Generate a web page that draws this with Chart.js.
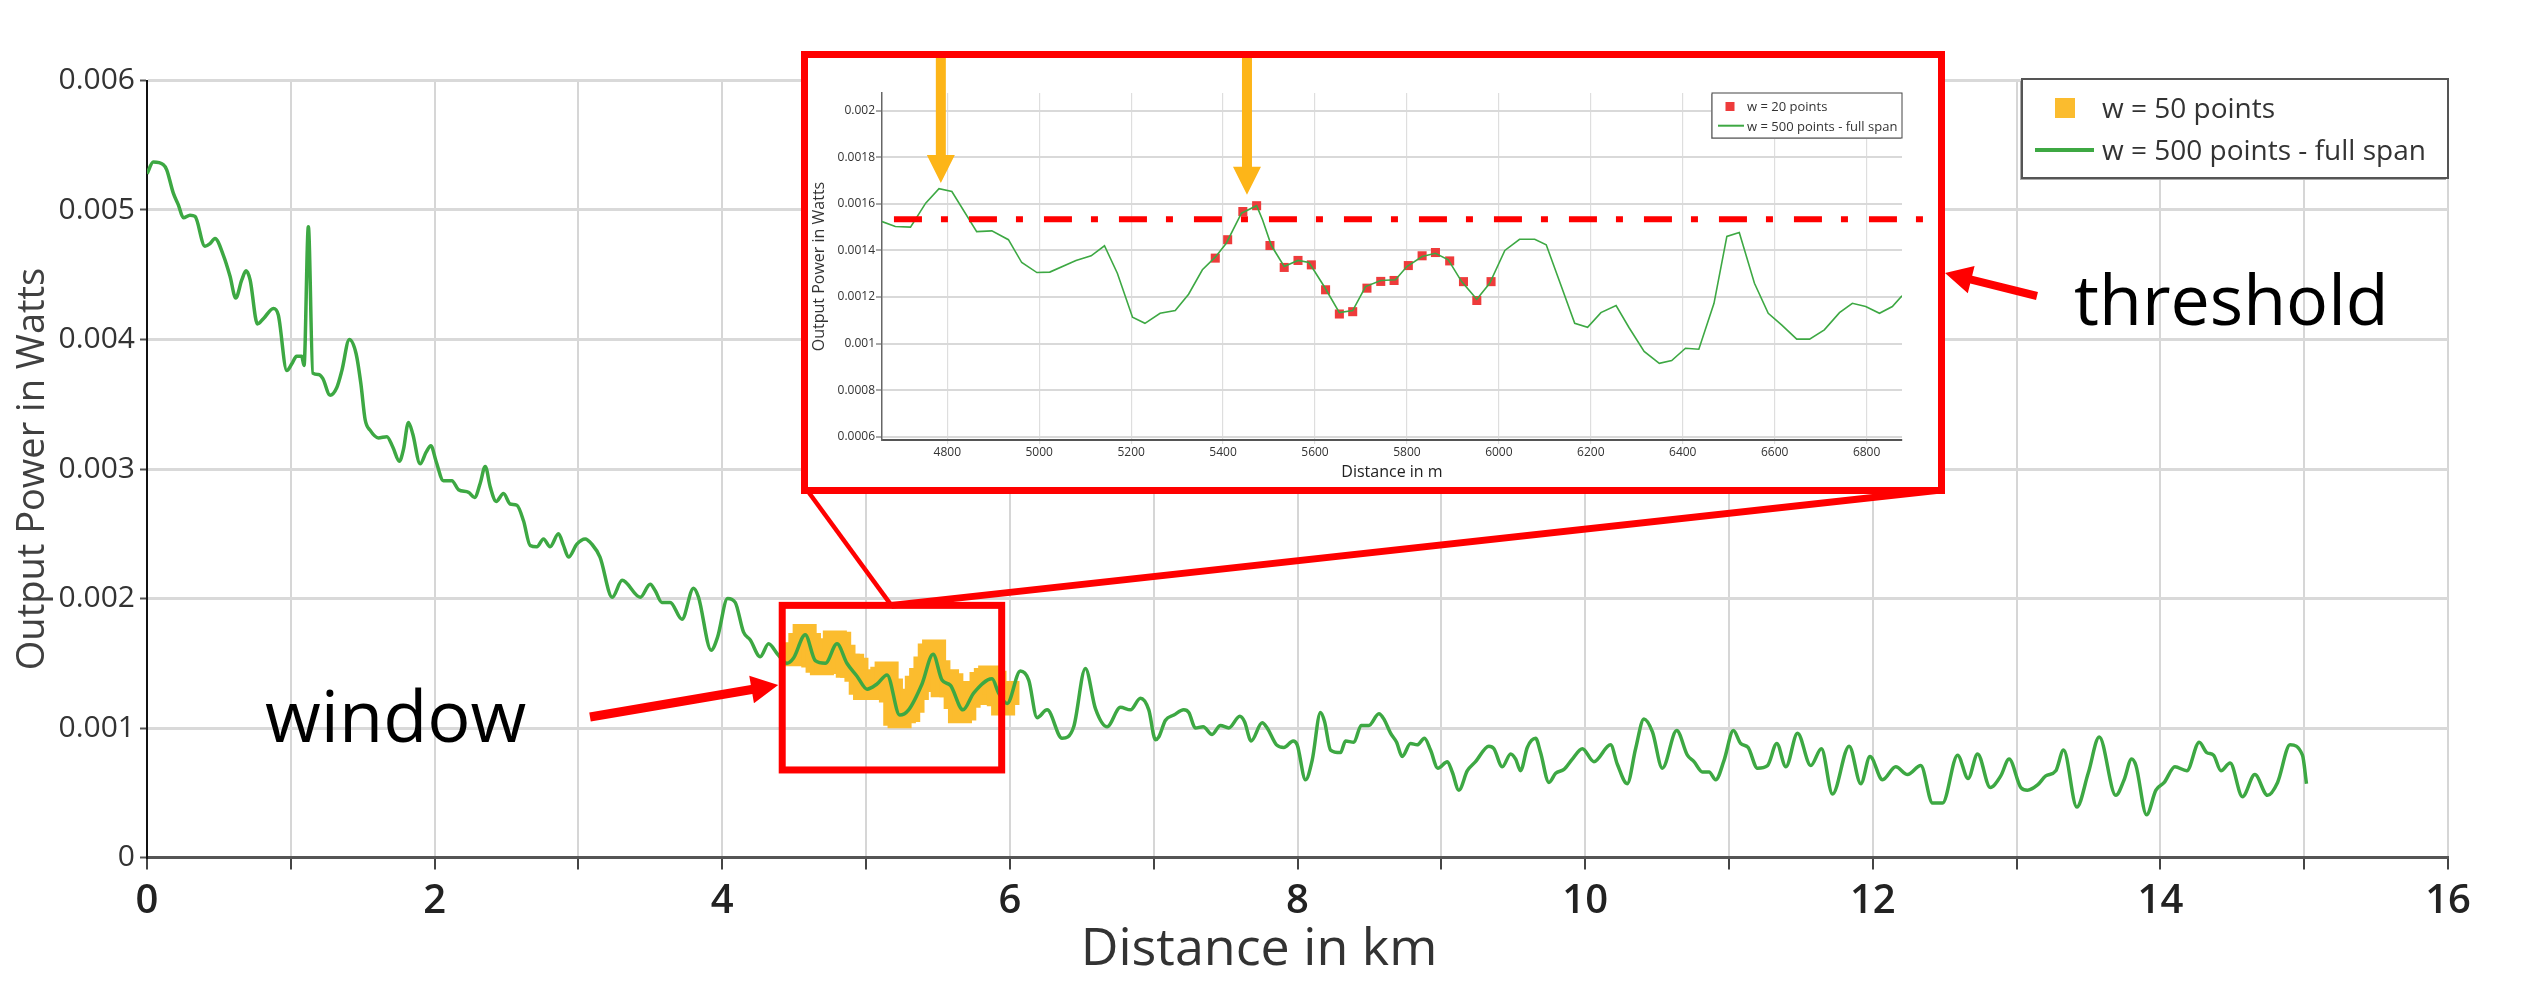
<!DOCTYPE html>
<html>
<head>
<meta charset="utf-8">
<script src="https://cdn.jsdelivr.net/npm/chart.js@4.4.1/dist/chart.umd.min.js"></script>
<style>
  body { margin: 0; background: #fff; }
  #wrap { position: relative; width: 2528px; height: 984px; }
  #main { position: absolute; left: 0; top: 0; }
  #insetBox { position: absolute; left: 801px; top: 51px; width: 1144px; height: 443px;
              border: 7px solid #ff0000; box-sizing: border-box; background: #fff; }
  #inset { display: block; }
</style>
</head>
<body>
<div id="wrap">
  <canvas id="main" width="2528" height="984"></canvas>
  <div id="insetBox"><canvas id="inset" width="1130" height="429"></canvas></div>
</div>
<script>
// === DATA (main chart, distance in km / power in W) ===
const distanceKm = [
  0.000, 0.044, 0.113, 0.137, 0.183, 0.218, 0.253, 0.299, 0.334, 0.403,
  0.438, 0.473, 0.531, 0.577, 0.617, 0.659, 0.689, 0.717, 0.768, 0.809,
  0.879, 0.913, 0.972, 1.006, 1.041, 1.076, 1.092, 1.122, 1.153, 1.192,
  1.222, 1.273, 1.320, 1.355, 1.407, 1.454, 1.487, 1.517, 1.551, 1.609,
  1.668, 1.709, 1.755, 1.783, 1.818, 1.848, 1.899, 1.941, 1.974, 2.010,
  2.061, 2.120, 2.166, 2.236, 2.278, 2.317, 2.352, 2.387, 2.428, 2.479,
  2.525, 2.572, 2.618, 2.664, 2.711, 2.757, 2.803, 2.861, 2.896, 2.931,
  2.989, 3.047, 3.093, 3.150, 3.235, 3.304, 3.430, 3.499, 3.534, 3.580,
  3.638, 3.720, 3.800, 3.835, 3.923, 3.967, 4.037, 4.090, 4.148, 4.195,
  4.264, 4.322, 4.385, 4.450, 4.496, 4.577, 4.647, 4.717, 4.798, 4.867,
  4.937, 5.007, 5.076, 5.146, 5.234, 5.296, 5.389, 5.466, 5.528, 5.586,
  5.674, 5.748, 5.876, 5.922, 5.981, 6.073, 6.131, 6.189, 6.259, 6.363,
  6.444, 6.525, 6.595, 6.676, 6.769, 6.838, 6.908, 6.966, 7.012, 7.035,
  7.082, 7.140, 7.209, 7.244, 7.290, 7.344, 7.406, 7.464, 7.522, 7.599,
  7.631, 7.678, 7.754, 7.789, 7.854, 7.905, 7.970, 7.998, 8.056, 8.102,
  8.160, 8.188, 8.230, 8.299, 8.334, 8.392, 8.443, 8.496, 8.566, 8.600,
  8.647, 8.689, 8.728, 8.786, 8.832, 8.883, 8.925, 8.976, 9.042, 9.076,
  9.122, 9.181, 9.238, 9.331, 9.366, 9.424, 9.482, 9.517, 9.551, 9.598,
  9.656, 9.690, 9.748, 9.795, 9.853, 9.911, 9.981, 10.061, 10.177, 10.224,
  10.293, 10.351, 10.409, 10.468, 10.537, 10.637, 10.711, 10.757, 10.816, 10.862,
  10.908, 10.966, 11.031, 11.082, 11.133, 11.198, 11.268, 11.333, 11.396, 11.477,
  11.569, 11.643, 11.720, 11.836, 11.917, 11.981, 12.068, 12.160, 12.242, 12.334,
  12.416, 12.485, 12.590, 12.663, 12.729, 12.817, 12.890, 12.948, 13.030, 13.076,
  13.146, 13.203, 13.273, 13.327, 13.419, 13.498, 13.575, 13.690, 13.748, 13.800,
  13.830, 13.904, 13.969, 14.027, 14.101, 14.184, 14.270, 14.323, 14.370, 14.421,
  14.485, 14.571, 14.657, 14.745, 14.815, 14.902, 14.988, 15.016
];
const powerW = [
  0.00528, 0.00537, 0.00535, 0.00531, 0.00513, 0.00504, 0.00494, 0.00496, 0.00495, 0.00472,
  0.00474, 0.00478, 0.00465, 0.00449, 0.00432, 0.00446, 0.00453, 0.00446, 0.00412, 0.00416,
  0.00424, 0.00419, 0.00376, 0.00381, 0.00387, 0.00387, 0.00380, 0.00487, 0.00374, 0.00373,
  0.00370, 0.00357, 0.00363, 0.00376, 0.00400, 0.00389, 0.00366, 0.00338, 0.00330, 0.00324,
  0.00325, 0.00317, 0.00306, 0.00315, 0.00336, 0.00327, 0.00304, 0.00313, 0.00318, 0.00306,
  0.00291, 0.00291, 0.00284, 0.00282, 0.00278, 0.00289, 0.00302, 0.00286, 0.00275, 0.00281,
  0.00273, 0.00272, 0.00260, 0.00241, 0.00240, 0.00246, 0.00240, 0.00250, 0.00241, 0.00232,
  0.00242, 0.00246, 0.00242, 0.00232, 0.00201, 0.00214, 0.00201, 0.00211, 0.00206, 0.00197,
  0.00197, 0.00184, 0.00208, 0.00201, 0.00160, 0.00170, 0.00200, 0.00197, 0.00174, 0.00168,
  0.00155, 0.00165, 0.00157, 0.00150, 0.00154, 0.00172, 0.00152, 0.00150, 0.00165, 0.00150,
  0.00140, 0.00130, 0.00134, 0.00141, 0.00110, 0.00114, 0.00134, 0.00157, 0.00137, 0.00133,
  0.00114, 0.00127, 0.00138, 0.00127, 0.00119, 0.00144, 0.00137, 0.00108, 0.00114, 0.00092,
  0.00101, 0.00146, 0.00115, 0.00101, 0.00116, 0.00114, 0.00123, 0.00114, 0.00091, 0.00093,
  0.00106, 0.00110, 0.00114, 0.00112, 0.00100, 0.00101, 0.00095, 0.00102, 0.00100, 0.00109,
  0.00105, 0.00090, 0.00104, 0.00100, 0.00087, 0.00085, 0.00090, 0.00087, 0.00060, 0.00075,
  0.00112, 0.00105, 0.00083, 0.00081, 0.00090, 0.00089, 0.00102, 0.00102, 0.00111, 0.00107,
  0.00096, 0.00089, 0.00078, 0.00088, 0.00087, 0.00092, 0.00083, 0.00069, 0.00074, 0.00066,
  0.00052, 0.00067, 0.00074, 0.00086, 0.00084, 0.00070, 0.00080, 0.00076, 0.00067, 0.00085,
  0.00092, 0.00081, 0.00058, 0.00065, 0.00068, 0.00076, 0.00084, 0.00074, 0.00087, 0.00072,
  0.00057, 0.00084, 0.00107, 0.00097, 0.00069, 0.00098, 0.00079, 0.00074, 0.00066, 0.00066,
  0.00060, 0.00075, 0.00098, 0.00088, 0.00085, 0.00069, 0.00071, 0.00088, 0.00070, 0.00096,
  0.00071, 0.00084, 0.00049, 0.00086, 0.00057, 0.00078, 0.00060, 0.00070, 0.00064, 0.00071,
  0.00042, 0.00042, 0.00079, 0.00061, 0.00080, 0.00054, 0.00063, 0.00076, 0.00054, 0.00052,
  0.00056, 0.00063, 0.00067, 0.00083, 0.00039, 0.00065, 0.00093, 0.00048, 0.00060, 0.00076,
  0.00071, 0.00033, 0.00052, 0.00058, 0.00070, 0.00067, 0.00089, 0.00081, 0.00079, 0.00067,
  0.00073, 0.00047, 0.00064, 0.00048, 0.00058, 0.00087, 0.00079, 0.00057
];

// w = 50 points window (orange squares)
const windowKm = [
  4.513, 4.543, 4.573, 4.603, 4.633, 4.663, 4.693, 4.723, 4.753, 4.783,
  4.813, 4.843, 4.873, 4.903, 4.933, 4.963, 4.993, 5.023, 5.053, 5.083,
  5.113, 5.143, 5.173, 5.203, 5.233, 5.263, 5.293, 5.323, 5.353, 5.383,
  5.413, 5.443, 5.473, 5.503, 5.533, 5.563, 5.593, 5.623, 5.653, 5.683,
  5.713, 5.743, 5.773, 5.803, 5.833, 5.863, 5.893, 5.923, 5.953, 5.983
];
const windowW = [
  0.00157, 0.00164, 0.00171, 0.00164, 0.00156, 0.00152, 0.00150, 0.00151, 0.00160, 0.00166,
  0.00165, 0.00155, 0.00148, 0.00148, 0.00145, 0.00135, 0.00131, 0.00131, 0.00133, 0.00136,
  0.00138, 0.00142, 0.00129, 0.00111, 0.00109, 0.00113, 0.00114, 0.00121, 0.00131, 0.00137,
  0.00146, 0.00156, 0.00159, 0.00143, 0.00133, 0.00136, 0.00133, 0.00124, 0.00113, 0.00115,
  0.00125, 0.00127, 0.00127, 0.00134, 0.00137, 0.00139, 0.00135, 0.00126, 0.00119, 0.00127
];

const xTickValues = [0, 1, 2, 3, 4, 5, 6, 7, 8, 9, 10, 11, 12, 13, 14, 15, 16];
const xTickLabels = ['0', '', '2', '', '4', '', '6', '', '8', '', '10', '', '12', '', '14', '', '16'];
const yTickValues = [0, 0.001, 0.002, 0.003, 0.004, 0.005, 0.006];
const yTickLabels = ['0', '0.001', '0.002', '0.003', '0.004', '0.005', '0.006'];

// === DATA (inset, distance in m / power in W) ===
const insetDistM = [
  4658, 4687, 4720, 4753, 4782, 4810, 4864, 4897, 4933, 4962,
  4995, 5023, 5080, 5113, 5142, 5170, 5203, 5230, 5263, 5296,
  5325, 5355, 5383, 5407, 5440, 5473, 5486, 5505, 5533, 5563,
  5587, 5620, 5653, 5682, 5710, 5743, 5775, 5800, 5833, 5862,
  5890, 5919, 5952, 5980, 6013, 6045, 6078, 6103, 6136, 6165,
  6193, 6222, 6255, 6283, 6316, 6349, 6376, 6406, 6435, 6468,
  6496, 6523, 6556, 6586, 6615, 6648, 6676, 6708, 6741, 6769,
  6798, 6828, 6856, 6877
];
const insetPowerW = [
  0.001524, 0.001503, 0.001500, 0.001603, 0.001665, 0.001653, 0.001481, 0.001484, 0.001446, 0.001348,
  0.001305, 0.001307, 0.001357, 0.001377, 0.001420, 0.001302, 0.001113, 0.001087, 0.001130, 0.001142,
  0.001212, 0.001317, 0.001371, 0.001431, 0.001560, 0.001592, 0.001531, 0.001421, 0.001331, 0.001357,
  0.001348, 0.001245, 0.001133, 0.001142, 0.001245, 0.001271, 0.001274, 0.001331, 0.001374, 0.001388,
  0.001360, 0.001266, 0.001190, 0.001259, 0.001400, 0.001448, 0.001448, 0.001424, 0.001245, 0.001087,
  0.001070, 0.001133, 0.001163, 0.001069, 0.000966, 0.000915, 0.000927, 0.000980, 0.000976, 0.001173,
  0.001460, 0.001477, 0.001259, 0.001130, 0.001080, 0.001019, 0.001019, 0.001059, 0.001133, 0.001173,
  0.001159, 0.001130, 0.001159, 0.001205
];
// w = 20 points (red squares)
const w20DistM = [5383, 5410, 5443, 5473, 5502, 5533, 5563, 5592, 5623, 5653, 5682,
                  5713, 5743, 5772, 5803, 5833, 5862, 5893, 5923, 5952, 5983];
const w20PowerW = [0.001367, 0.001446, 0.001567, 0.001592, 0.001421, 0.001327, 0.001357,
                   0.001338, 0.001231, 0.001127, 0.001137, 0.001238, 0.001267, 0.001271,
                   0.001335, 0.001377, 0.001391, 0.001355, 0.001266, 0.001185, 0.001266];

const insetXTicks = [4800, 5000, 5200, 5400, 5600, 5800, 6000, 6200, 6400, 6600, 6800];
const insetYTicks = [0.0006, 0.0008, 0.001, 0.0012, 0.0014, 0.0016, 0.0018, 0.002];
const insetYLabels = ['0.0006', '0.0008', '0.001', '0.0012', '0.0014', '0.0016', '0.0018', '0.002'];

const thresholdW = 0.001534;
const peakArrowM = [4786, 5452];
const peakArrowTipW = [0.00169, 0.001639];

// === STYLE ===
const RED = '#ff0000';
const GREEN = '#3da843';
const ORANGE = '#fbbc2e';
const ARROW_ORANGE = '#fdb518';
const INSET = { left: 801, top: 51, width: 1144, height: 443 };
const windowBox = { fromKm: 4.417, toKm: 5.943, topW: 0.001947, bottomW: 0.000676, linkKm: 5.176 };

Chart.defaults.font.family = '"Open Sans", sans-serif';

function toPoints(xs, ys) {
  return xs.map((x, i) => ({ x: x, y: ys[i] }));
}

function arrow(ctx, x1, y1, x2, y2, shaftW, headLen, headHalf, color) {
  const ang = Math.atan2(y2 - y1, x2 - x1);
  const len = Math.hypot(x2 - x1, y2 - y1);
  ctx.save();
  ctx.translate(x2, y2);
  ctx.rotate(ang);
  ctx.fillStyle = color;
  ctx.beginPath();
  ctx.moveTo(-len, -shaftW / 2);
  ctx.lineTo(-headLen, -shaftW / 2);
  ctx.lineTo(-headLen, -headHalf);
  ctx.lineTo(0, 0);
  ctx.lineTo(-headLen, headHalf);
  ctx.lineTo(-headLen, shaftW / 2);
  ctx.lineTo(-len, shaftW / 2);
  ctx.closePath();
  ctx.fill();
  ctx.restore();
}

function seg(ctx, x1, y1, x2, y2) {
  ctx.beginPath();
  ctx.moveTo(x1, y1);
  ctx.lineTo(x2, y2);
  ctx.stroke();
}

// === MAIN CHART DECORATIONS ===
const mainDecor = {
  id: 'mainDecor',
  afterDatasetsDraw(chart) {
    const { ctx, scales: { x, y } } = chart;
    ctx.save();

    // window box
    const l = x.getPixelForValue(windowBox.fromKm);
    const r = x.getPixelForValue(windowBox.toKm);
    const t = y.getPixelForValue(windowBox.topW);
    const b = y.getPixelForValue(windowBox.bottomW);
    ctx.strokeStyle = RED;
    ctx.lineWidth = 7;
    ctx.strokeRect(l, t, r - l, b - t);

    // links to the zoom box
    const jx = x.getPixelForValue(windowBox.linkKm);
    ctx.lineWidth = 4.5;
    seg(ctx, jx, t, INSET.left + 6, INSET.top + INSET.height - 4);
    ctx.lineWidth = 7;
    seg(ctx, jx, t, INSET.left + INSET.width - 4, INSET.top + INSET.height - 4);

    // "window" label + arrow
    arrow(ctx, 590, 717, l - 4, 685, 9, 27, 14, RED);
    ctx.fillStyle = '#000';
    ctx.font = '72px "Open Sans"';
    ctx.textBaseline = 'alphabetic';
    ctx.textAlign = 'left';
    ctx.fillText('window', 265, 742);

    // "threshold" label + arrow
    arrow(ctx, 2037, 296, INSET.left + INSET.width, 273, 8, 27, 14, RED);
    ctx.font = '70px "Open Sans"';
    ctx.fillText('threshold', 2074, 325);

    // x axis title (sits a bit left of the plot centre in the original)
    ctx.fillStyle = '#333';
    ctx.font = '52px "Open Sans"';
    ctx.textAlign = 'center';
    ctx.textBaseline = 'middle';
    ctx.fillText('Distance in km', 1259, 950);

    // legend
    ctx.textAlign = 'left';
    ctx.textBaseline = 'alphabetic';
    ctx.fillStyle = '#aaa';
    ctx.fillRect(2020, 81, 426, 99);
    ctx.fillStyle = '#fff';
    ctx.fillRect(2022, 79, 426, 99);
    ctx.strokeStyle = '#555';
    ctx.lineWidth = 2;
    ctx.strokeRect(2022, 79, 426, 99);
    ctx.fillStyle = ORANGE;
    ctx.fillRect(2055, 98, 20, 20);
    ctx.strokeStyle = GREEN;
    ctx.lineWidth = 4;
    seg(ctx, 2035, 150, 2094, 150);
    ctx.fillStyle = '#333';
    ctx.font = '28px "Open Sans"';
    ctx.fillText(chart.data.datasets[1].label, 2102, 118);
    ctx.fillText(chart.data.datasets[0].label, 2102, 160);
    ctx.restore();
  }
};

const mainChart = new Chart(document.getElementById('main'), {
  type: 'scatter',
  data: {
    datasets: [
      {
        label: 'w = 500 points - full span',
        data: toPoints(distanceKm, powerW),
        showLine: true,
        borderColor: GREEN,
        borderWidth: 3.5,
        pointRadius: 0,
        cubicInterpolationMode: 'monotone',
        order: 0
      },
      {
        label: 'w = 50 points',
        data: toPoints(windowKm, windowW),
        showLine: false,
        pointStyle: 'rect',
        pointRadius: 17,
        backgroundColor: ORANGE,
        borderWidth: 0,
        order: 1
      }
    ]
  },
  options: {
    responsive: false,
    animation: false,
    devicePixelRatio: 1,
    layout: { padding: { top: 80.5, right: 80, left: 0, bottom: 0 } },
    plugins: { legend: { display: false }, tooltip: { enabled: false } },
    scales: {
      x: {
        type: 'linear',
        min: 0,
        max: 16,
        afterBuildTicks: s => { s.ticks = xTickValues.map(v => ({ value: v })); },
        afterFit: s => { s.height = 126.5; },
        ticks: {
          callback: (v, i) => xTickLabels[i],
          autoSkip: false,
          maxRotation: 0,
          font: { size: 40, weight: '600' },
          color: '#222',
          padding: 8
        },
        grid: { color: '#d6d6d6', lineWidth: 2, tickColor: '#444', tickLength: 12, tickWidth: 2 },
        border: { color: '#555', width: 3 },
        title: { display: false }
      },
      y: {
        min: 0,
        max: 0.006,
        afterBuildTicks: s => { s.ticks = yTickValues.map(v => ({ value: v })); },
        afterFit: s => { s.width = 147; },
        ticks: {
          callback: (v, i) => yTickLabels[i],
          font: { size: 30 },
          color: '#333',
          padding: 5
        },
        grid: { color: '#d9d9d9', lineWidth: 3, tickColor: '#555', tickLength: 7, tickWidth: 2 },
        border: { color: '#111', width: 2 },
        title: { display: true, text: 'Output Power in Watts', font: { size: 38 }, color: '#404040', padding: { top: 10, bottom: 0 } }
      }
    }
  },
  plugins: [mainDecor]
});

// === INSET DECORATIONS ===
const insetDecor = {
  id: 'insetDecor',
  afterDatasetsDraw(chart) {
    const { ctx, scales: { x, y } } = chart;
    ctx.save();

    // threshold dash-dot line
    const ty = y.getPixelForValue(thresholdW);
    ctx.strokeStyle = RED;
    ctx.lineWidth = 6;
    ctx.setLineDash([28, 19, 7, 21]);
    seg(ctx, x.getPixelForValue(4684), ty, chart.width - 8, ty);
    ctx.setLineDash([]);

    // peak arrows
    peakArrowM.forEach((m, i) => {
      const px = x.getPixelForValue(m);
      arrow(ctx, px, 0, px, y.getPixelForValue(peakArrowTipW[i]), 10, 28, 14, ARROW_ORANGE);
    });

    // legend
    const lx = 904, ly = 35, lw = 190, lh = 45;
    ctx.fillStyle = '#bbb';
    ctx.fillRect(lx - 1, ly + 1, lw, lh);
    ctx.fillStyle = '#fff';
    ctx.fillRect(lx, ly, lw, lh);
    ctx.strokeStyle = '#444';
    ctx.lineWidth = 1;
    ctx.strokeRect(lx, ly, lw, lh);
    ctx.fillStyle = '#ee3b3b';
    ctx.fillRect(917.5, 44, 9, 9);
    ctx.strokeStyle = GREEN;
    ctx.lineWidth = 2;
    seg(ctx, 910, 67.7, 936, 67.7);
    ctx.fillStyle = '#333';
    ctx.font = '13px "Open Sans"';
    ctx.textAlign = 'left';
    ctx.textBaseline = 'alphabetic';
    ctx.fillText(chart.data.datasets[0].label, 939, 53);
    ctx.fillText(chart.data.datasets[1].label, 939, 72.5);
    ctx.restore();
  }
};

const insetChart = new Chart(document.getElementById('inset'), {
  type: 'scatter',
  data: {
    datasets: [
      {
        label: 'w = 20 points',
        data: toPoints(w20DistM, w20PowerW),
        showLine: false,
        pointStyle: 'rect',
        pointRadius: 6.4,
        backgroundColor: '#ee3b3b',
        borderWidth: 0,
        order: 1
      },
      {
        label: 'w = 500 points - full span',
        data: toPoints(insetDistM, insetPowerW),
        showLine: true,
        borderColor: GREEN,
        borderWidth: 1.6,
        pointRadius: 0,
        tension: 0,
        order: 0
      }
    ]
  },
  options: {
    responsive: false,
    animation: false,
    devicePixelRatio: 1,
    layout: { padding: { top: 35, right: 36, left: 0, bottom: 0 } },
    plugins: { legend: { display: false }, tooltip: { enabled: false } },
    scales: {
      x: {
        type: 'linear',
        min: 4658,
        max: 6877,
        afterBuildTicks: s => { s.ticks = insetXTicks.map(v => ({ value: v })); },
        afterFit: s => { s.height = 47; },
        ticks: {
          callback: (v, i) => String(insetXTicks[i]),
          autoSkip: false,
          maxRotation: 0,
          font: { size: 12 },
          color: '#333',
          padding: 1
        },
        grid: { color: '#dedede', lineWidth: 1.2, tickLength: 4 },
        border: { color: '#555', width: 2 },
        title: { display: true, text: 'Distance in m', font: { size: 16 }, color: '#222', padding: { top: 0, bottom: 5 } }
      },
      y: {
        min: 0.000586,
        max: 0.002076,
        afterBuildTicks: s => { s.ticks = insetYTicks.map(v => ({ value: v })); },
        afterFit: s => { s.width = 74; },
        ticks: {
          callback: (v, i) => insetYLabels[i],
          font: { size: 12 },
          color: '#333',
          padding: 1
        },
        grid: { color: '#d9d9d9', lineWidth: 2, tickColor: '#555', tickLength: 6, tickWidth: 1 },
        border: { color: '#666', width: 1.5 },
        title: { display: true, text: 'Output Power in Watts', font: { size: 16 }, color: '#333', padding: { top: 2, bottom: 0 } }
      }
    }
  },
  plugins: [insetDecor]
});
</script>
</body>
</html>
